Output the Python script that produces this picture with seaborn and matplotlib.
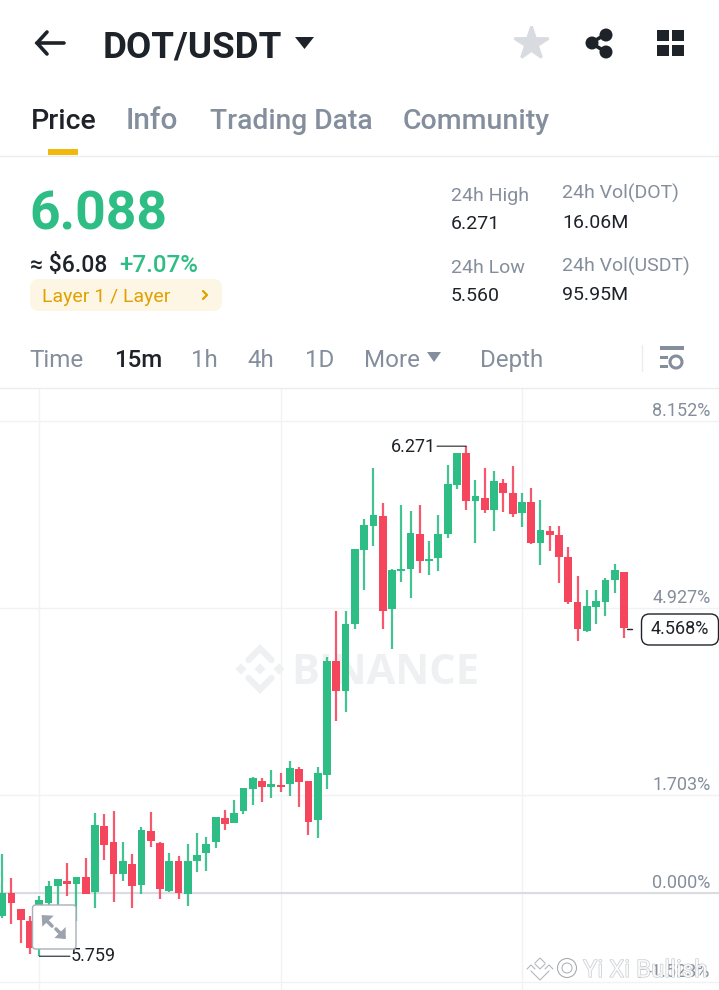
import numpy as np
import pandas as pd
import seaborn as sns
import matplotlib.pyplot as plt
import matplotlib.patheffects as pe
from matplotlib.patches import FancyBboxPatch, Polygon, Circle, Rectangle

# 15m candles
opens = [5.799, 5.822, 5.806, 5.794, 5.768, 5.812, 5.829, 5.835, 5.832, 5.839, 5.823, 5.890,
         5.874, 5.842, 5.852, 5.830, 5.885, 5.873, 5.824, 5.855, 5.821, 5.855, 5.863, 5.874,
         5.898, 5.893, 5.905, 5.927, 5.935, 5.929, 5.931, 5.932, 5.947, 5.935, 5.896, 5.941,
         6.055, 6.025, 6.092, 6.167, 6.191, 6.201, 6.108, 6.146, 6.148, 6.183, 6.156, 6.159,
         6.183, 6.232, 6.264, 6.216, 6.219, 6.207, 6.234, 6.224, 6.204, 6.215, 6.174, 6.186,
         6.182, 6.160, 6.115, 6.085, 6.110, 6.115, 6.137, 6.145]
highs = [5.862, 5.838, 5.806, 5.799, 5.819, 5.835, 5.837, 5.853, 5.839, 5.858, 5.903, 5.902,
         5.905, 5.874, 5.862, 5.889, 5.904, 5.874, 5.863, 5.860, 5.872, 5.883, 5.879, 5.899,
         5.906, 5.916, 5.928, 5.939, 5.938, 5.946, 5.943, 5.955, 5.949, 5.935, 5.949, 6.059,
         6.106, 6.106, 6.168, 6.198, 6.249, 6.214, 6.148, 6.212, 6.206, 6.212, 6.176, 6.202,
         6.252, 6.264, 6.271, 6.237, 6.249, 6.246, 6.238, 6.251, 6.224, 6.229, 6.217, 6.191,
         6.191, 6.170, 6.141, 6.127, 6.127, 6.139, 6.153, 6.145]
lows = [5.797, 5.791, 5.772, 5.761, 5.759, 5.808, 5.808, 5.819, 5.794, 5.821, 5.807, 5.856,
        5.813, 5.835, 5.807, 5.821, 5.869, 5.816, 5.823, 5.816, 5.809, 5.844, 5.845, 5.868,
        5.886, 5.893, 5.902, 5.911, 5.914, 5.918, 5.924, 5.920, 5.909, 5.881, 5.878, 5.927,
        5.995, 6.004, 6.087, 6.127, 6.171, 6.087, 6.067, 6.135, 6.119, 6.144, 6.142, 6.146,
        6.179, 6.228, 6.207, 6.174, 6.204, 6.186, 6.205, 6.200, 6.190, 6.173, 6.152, 6.166,
        6.134, 6.113, 6.075, 6.084, 6.093, 6.101, 6.124, 6.078]
closes = [5.822, 5.812, 5.795, 5.767, 5.815, 5.829, 5.837, 5.832, 5.839, 5.821, 5.891, 5.871,
          5.842, 5.855, 5.829, 5.886, 5.875, 5.826, 5.855, 5.822, 5.855, 5.861, 5.872, 5.899,
          5.892, 5.903, 5.928, 5.938, 5.929, 5.932, 5.929, 5.948, 5.934, 5.894, 5.943, 6.055,
          6.025, 6.092, 6.168, 6.192, 6.202, 6.106, 6.147, 6.148, 6.184, 6.156, 6.158, 6.183,
          6.233, 6.264, 6.216, 6.221, 6.207, 6.236, 6.224, 6.203, 6.215, 6.174, 6.187, 6.182,
          6.160, 6.115, 6.087, 6.111, 6.116, 6.137, 6.147, 6.088]

base_price = 5.822
pct_ticks = [8.152, 4.927, 1.703, 0.0, -1.523]
pct_labels = ['8.152%', '4.927%', '1.703%', '0.000%', '-1.523%']
date_ticks = [4, 30, 56]

GREEN = '#2EBD85'
RED = '#F6465D'
DARK = '#1E2329'
GRAY = '#848E9C'

sns.set_theme(style='white')
plt.rcParams['font.family'] = ['Roboto', 'DejaVu Sans']

df = pd.DataFrame({'idx': range(len(opens)), 'open': opens, 'high': highs, 'low': lows, 'close': closes})
df['up'] = df['close'] >= df['open']
df['bottom'] = df[['open', 'close']].min(axis=1)
df['height'] = (df['close'] - df['open']).abs()

fig = plt.figure(figsize=(7.19, 9.90), dpi=100, facecolor='white')

# background layer, pixel coordinates, for the watermark
bg = fig.add_axes([0, 0, 1, 1], zorder=0)
bg.set_xlim(0, 719)
bg.set_ylim(990, 0)
bg.axis('off')

# chart
ax = fig.add_axes([0, 0, 1, 602 / 990], zorder=1)
ax.patch.set_alpha(0)
for up, color in [(True, GREEN), (False, RED)]:
    sub = df[df['up'] == up]
    ax.vlines(sub['idx'], sub['low'], sub['high'], color=color, lw=1.6, alpha=0.9, zorder=3)
    sns.barplot(data=sub, x='idx', y='height', bottom=sub['bottom'], native_scale=True, color=color,
                saturation=1, errorbar=None, linewidth=0, width=0.84, ax=ax, zorder=4)

ax.set_xlim(-0.237, 77.24)
ax.set_ylim(5.7251, 6.3294)
ax.set_xlabel('')
ax.set_ylabel('')
for s in ax.spines.values():
    s.set_visible(False)

tick_prices = [base_price * (1 + p / 100) for p in pct_ticks]
ax.set_yticks(tick_prices)
ax.set_xticks(date_ticks)
ax.tick_params(length=0, labelleft=False, labelbottom=False)
ax.grid(True, color='#F1F2F4', lw=1.0)
ax.set_axisbelow(True)
ax.axhline(base_price, color='#DADCE1', lw=1.5, zorder=1)

for price, text in zip(tick_prices, pct_labels):
    ax.annotate(text, xy=(1, price), xycoords=('axes fraction', 'data'), xytext=(-6.2, 7.2),
                textcoords='offset points', ha='right', va='center', color=GRAY, fontsize=13)

# high and low markers
hi = df['high'].idxmax()
lo = df['low'].idxmin()
ax.annotate(f"{highs[hi]:.3f}", xy=(hi, highs[hi]), xytext=(-21.5, -0.4), textcoords='offset points',
            ha='right', va='center', color=DARK, fontsize=13)
ax.annotate('', xy=(hi, highs[hi]), xytext=(-21, 0), textcoords='offset points',
            arrowprops=dict(arrowstyle='-', color=DARK, lw=0.8, shrinkA=0, shrinkB=0))
ax.annotate(f"{lows[lo]:.3f}", xy=(lo, lows[lo]), xytext=(22.5, 0.3), textcoords='offset points',
            ha='left', va='center', color=DARK, fontsize=13)
ax.annotate('', xy=(lo, lows[lo]), xytext=(22, 0), textcoords='offset points',
            arrowprops=dict(arrowstyle='-', color=DARK, lw=0.8, shrinkA=0, shrinkB=0))


def diamond(a, cx, cy, r, **kw):
    a.add_patch(Polygon([(cx, cy - r), (cx + r, cy), (cx, cy + r), (cx - r, cy)], closed=True, lw=0, **kw))


def chevron(a, cx, cy, r, sign, **kw):
    a.plot([cx - r, cx, cx + r], [cy, cy + sign * r, cy], **kw)


# BINANCE watermark
wm = '#EEF0F1'
for dx, r in [(0, 5.5), (-19, 5.5), (19, 5.5)]:
    diamond(bg, 260 + dx, 669, r, color=wm)
chevron(bg, 260, 660, 11.5, -1, color=wm, lw=4.5, solid_joinstyle='miter')
chevron(bg, 260, 678, 11.5, 1, color=wm, lw=4.5, solid_joinstyle='miter')
bg.text(291, 684, 'BINANCE', fontsize=30, fontweight='bold', color=wm, va='baseline', family='Open Sans')

# app chrome on top
ui = fig.add_axes([0, 0, 1, 1], zorder=2)
ui.set_xlim(0, 719)
ui.set_ylim(990, 0)
ui.axis('off')
ui.patch.set_alpha(0)


def label(x, y, s, size, color=DARK, weight='normal', **kw):
    return ui.text(x, y, s, fontsize=size, color=color, fontweight=weight, va='baseline', **kw)


def pill(x0, y0, x1, y1, r, **kw):
    ui.add_patch(FancyBboxPatch((x0 + r, y0 + r), x1 - x0 - 2 * r, y1 - y0 - 2 * r,
                                boxstyle=f'round,pad={r},rounding_size={r}', **kw))


# header
ui.plot([64, 37], [43, 43], color=DARK, lw=2.6)
ui.plot([47, 37, 47], [32, 43, 54], color=DARK, lw=2.6, solid_joinstyle='miter')
label(103, 57, 'DOT/USDT', 26.5, weight='bold')
ui.add_patch(Polygon([(295, 37), (314, 37), (304.5, 49)], closed=True, color=DARK, lw=0))
ui.plot(531, 43, marker='*', ms=25, color='#D8DBE0', mec='#D8DBE0', mew=2)
ui.plot([606, 591, 606], [34, 43, 52], color=DARK, lw=2.6)
for cx, cy, r in [(606, 35, 6.5), (606, 52, 6.5), (592, 43, 6.5)]:
    ui.add_patch(Circle((cx, cy), r, color=DARK, lw=0))
for gx, gy in [(657, 30), (672, 30), (657, 45), (672, 45)]:
    ui.add_patch(Rectangle((gx, gy), 11.5, 11, color=DARK, lw=0))

# tabs
label(30.5, 129, 'Price', 20.5, weight='medium')
label(126, 129, 'Info', 21.5, color=GRAY, weight='medium')
label(210, 129, 'Trading Data', 20.3, color=GRAY, weight='medium')
label(403, 129, 'Community', 20.5, color=GRAY, weight='medium')
ui.add_patch(Rectangle((48, 149), 30, 6, color='#F0B90B', lw=0))
ui.plot([0, 719], [155.5, 155.5], color='#EAECEF', lw=1)

# price block
label(29.5, 230, '6.088', 38.5, color=GREEN, weight='bold')
label(30, 272, '≈ $6.08', 16.5, weight='medium')
label(119, 272, '+7.07%', 17.3, color=GREEN, weight='medium')
pill(30, 279, 222, 311, 9, fc='#FDF6E5', ec='none')
label(42, 302, 'Layer 1 / Layer', 14, color='#E0A100')
ui.plot([203, 207, 203], [291, 295, 299], color='#E0A100', lw=1.6)

label(451, 201, '24h High', 14, color=GRAY)
label(451, 229, '6.271', 14)
label(562, 199, '24h Vol(DOT)', 14, color=GRAY)
label(562, 228, '16.06M', 14)
label(451, 273, '24h Low', 14, color=GRAY)
label(451, 301, '5.560', 14)
label(562, 272, '24h Vol(USDT)', 14, color=GRAY)
label(562, 300, '95.95M', 14)

# interval bar
for x, s in [(29, 'Time'), (191, '1h'), (247.5, '4h'), (305, '1D'), (364, 'More'), (480, 'Depth')]:
    label(x, 367, s, 17.4, color=GRAY)
label(114, 367, '15m', 17.4, weight='medium')
ui.add_patch(Polygon([(427, 352), (441, 352), (434, 362)], closed=True, color=GRAY, lw=0))
ui.plot([642, 642], [345, 371], color='#EAECEF', lw=1)
ui.add_patch(Rectangle((660, 346), 24, 3.5, color=GRAY, lw=0))
ui.add_patch(Rectangle((660, 356), 8, 3, color=GRAY, lw=0))
ui.add_patch(Rectangle((660, 365), 8, 3, color=GRAY, lw=0))
ui.add_patch(Circle((676, 362), 6, fc='white', ec=GRAY, lw=2.2))
ui.plot([0, 719], [388, 388], color='#EAECEF', lw=1)

# expand button
pill(32.5, 905, 76, 949, 3, fc='white', ec='#A9AFB8', lw=1)
ice = '#9DA3AD'
ui.plot([44, 52], [918, 926], color=ice, lw=2.6)
ui.plot([56, 64], [929, 937], color=ice, lw=2.6)
ui.add_patch(Polygon([(41.7, 915), (53.7, 915.7), (42.3, 926.7)], closed=True, color=ice, lw=0))
ui.add_patch(Polygon([(65.7, 927), (65.7, 939), (54.3, 938)], closed=True, color=ice, lw=0))

# current price tag
ui.plot([627, 632], [629, 629], color=DARK, lw=1)
pill(641.5, 614, 718.5, 645, 8, fc='white', ec=DARK, lw=1)
ui.text(680, 629.5, '4.568%', fontsize=13, color=DARK, ha='center', va='center')

# author watermark
halo = [pe.withStroke(linewidth=0.8, foreground='#B0B4BA')]
t = ui.text(583, 977, 'Yi Xi Bullish', fontsize=17.3, color='white', alpha=0.75, va='baseline')
t.set_path_effects(halo)
ui.add_patch(Circle((567, 968), 9.5, fc='white', ec='#A8ACB2', lw=0.8))
ui.add_patch(Circle((567, 968), 5, fc='white', ec='#A8ACB2', lw=0.7))
chevron(ui, 540, 963, 5, -1, color='#B4B8BE', lw=0.8)
chevron(ui, 540, 964, 5, 1, color='#B4B8BE', lw=0.8)
chevron(ui, 531, 969, 4, -1, color='#B4B8BE', lw=0.8)
chevron(ui, 549, 969, 4, -1, color='#B4B8BE', lw=0.8)
chevron(ui, 540, 971, 9, 1, color='#B4B8BE', lw=0.8)

fig.savefig('out.png', dpi=100, facecolor='white')
